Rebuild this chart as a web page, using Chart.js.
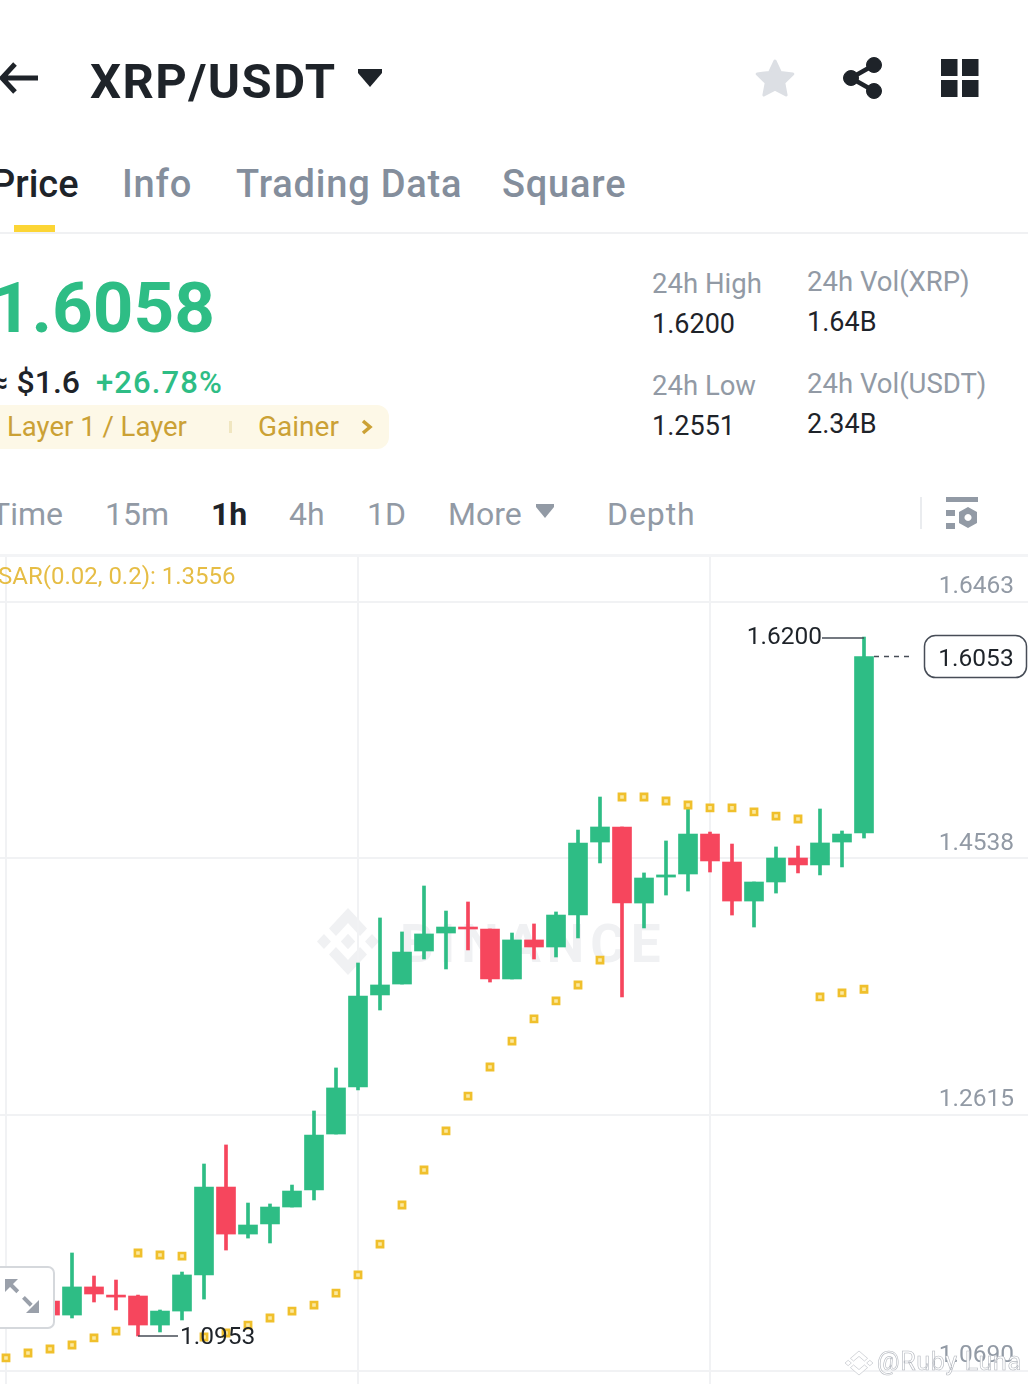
<!DOCTYPE html>
<html>
<head>
<meta charset="utf-8">
<title>XRP/USDT</title>
<script src="https://cdn.jsdelivr.net/npm/chart.js@4/dist/chart.umd.js"></script>
<style>
  html, body { margin: 0; padding: 0; background: #fff; }
  #page { position: relative; width: 1028px; height: 1384px; overflow: hidden; font-family: Roboto, sans-serif; color: #1e2329; }
  .t { position: absolute; white-space: nowrap; line-height: 1; }
  .green { color: #2ebd85; }
  .stat-label { font-size: 27.5px; color: #929aa5; }
  .stat-value { font-size: 27px; color: #1e2329; }
  .tab { font-size: 38px; font-weight: 500; color: #848e9c; top: 165px; letter-spacing: 0.8px; }
  .range { font-size: 32px; color: #929aa5; top: 498px; }
  svg { position: absolute; overflow: visible; }
  #chart { position: absolute; left: 0; top: 555px; z-index: 2; }
  #sep1 { position: absolute; left: 0; top: 232px; width: 1028px; height: 2px; background: #f0f1f3; }
  #sep2 { position: absolute; left: 0; top: 554px; width: 1028px; height: 3px; background: #f3f4f6; z-index: 3; }
  #underline { position: absolute; left: 14px; top: 225px; width: 41px; height: 8px; background: #fcd535; }
  #tags { position: absolute; left: -20px; top: 405px; width: 409px; height: 44px; border-radius: 12px; background: #fdf8e7; }
  #expand { position: absolute; left: -12px; top: 1266px; width: 63px; height: 59px; border: 2px solid #d5d8dc; border-radius: 7px; background: #fff; z-index: 4; }
  #brand { position: absolute; left: 400px; top: 918px; font-size: 53px; font-weight: 700; letter-spacing: 6px; color: #f0f1f3; z-index: 1; line-height: 1; }
  #stamp { position: absolute; left: 877px; top: 1349px; font-size: 25px; color: #fff; -webkit-text-stroke: 0.6px #b4b8bf; z-index: 5; line-height: 1; letter-spacing: 0.7px; white-space: nowrap; }
</style>
</head>
<body>
<div id="page">
  <svg style="left:0;top:60px" width="40" height="36" viewBox="0 0 40 36"><path d="M38 18H2M15 4 2 18l13 14" fill="none" stroke="#1e2329" stroke-width="5"/></svg>
  <div class="t" style="left:90px;top:57px;font-size:49px;font-weight:700;color:#1e2329;letter-spacing:1.4px" >XRP/USDT</div>
  <svg style="left:357px;top:68px" width="26" height="20" viewBox="0 0 26 20"><path d="M1 1h24v4L13 19 1 5z" fill="#1e2329"/></svg>
  <svg style="left:753px;top:56px" width="44" height="44" viewBox="0 0 44 44"><path d="M22 5l5.4 11.4 12.4 1.6-9 8.700 2.300 12.300L22 33.100 10.900 39l2.300-12.300-9-8.700 12.400-1.600z" fill="#dcdfe4" stroke="#dcdfe4" stroke-width="3" stroke-linejoin="round"/></svg>
  <svg style="left:840px;top:54px" width="46" height="48" viewBox="0 0 46 48"><g fill="#1e2329" stroke="#1e2329"><path d="M11 24 34 11M11 24l23 13" stroke-width="4.500"/><circle cx="11" cy="24" r="7.500"/><circle cx="34" cy="11" r="7.500"/><circle cx="34" cy="37" r="7.500"/></g></svg>
  <svg style="left:941px;top:59px" width="38" height="38" viewBox="0 0 38 38"><g fill="#1e2329"><rect width="16.500" height="17"/><rect x="21" width="16.500" height="17"/><rect y="21" width="16.500" height="17"/><rect x="21" y="21" width="16.500" height="17"/></g></svg>

  <div class="t tab" style="left:-9px;color:#1e2329;letter-spacing:0">Price</div>
  <div class="t tab" style="left:122px">Info</div>
  <div class="t tab" style="left:236px">Trading Data</div>
  <div class="t tab" style="left:502px">Square</div>
  <div id="underline"></div>
  <div id="sep1"></div>

  <div class="t green" style="right:813px;top:272px;font-size:71px;font-weight:700">1.6058</div>
  <div class="t" style="right:948px;top:366px;font-size:32px;font-weight:500">≈ $1.6</div>
  <div class="t green" style="left:96px;top:367px;font-size:31px;font-weight:500;letter-spacing:1.1px">+26.78%</div>
  <div id="tags"></div>
  <div class="t" style="left:7px;top:413px;font-size:27.5px;color:#cba135">Layer 1 / Layer</div>
  <div style="position:absolute;left:229px;top:421px;width:3px;height:12px;background:#f0e6c0"></div>
  <div class="t" style="left:258px;top:413px;font-size:28px;color:#cba135">Gainer</div>
  <svg style="left:361px;top:419px" width="12" height="16" viewBox="0 0 12 16"><path d="M2 2l7 6-7 6" fill="none" stroke="#cba135" stroke-width="3.500"/></svg>

  <div class="t stat-label" style="left:652px;top:270px">24h High</div>
  <div class="t stat-value" style="left:652px;top:311px">1.6200</div>
  <div class="t stat-label" style="left:807px;top:268px">24h Vol(XRP)</div>
  <div class="t stat-value" style="left:807px;top:309px">1.64B</div>
  <div class="t stat-label" style="left:652px;top:372px">24h Low</div>
  <div class="t stat-value" style="left:652px;top:413px">1.2551</div>
  <div class="t stat-label" style="left:807px;top:370px">24h Vol(USDT)</div>
  <div class="t stat-value" style="left:807px;top:411px">2.34B</div>

  <div class="t range" style="right:965px">Time</div>
  <div class="t range" style="left:105px">15m</div>
  <div class="t range" style="left:211px;color:#1e2329;font-weight:700">1h</div>
  <div class="t range" style="left:289px">4h</div>
  <div class="t range" style="left:367px">1D</div>
  <div class="t range" style="left:448px">More</div>
  <svg style="left:536px;top:504px" width="18" height="14" viewBox="0 0 18 14"><path d="M0 0h18v3L9 14 0 3z" fill="#929aa5"/></svg>
  <div class="t range" style="left:607px;letter-spacing:0.9px">Depth</div>
  <div style="position:absolute;left:920px;top:497px;width:2px;height:32px;background:#eaecef"></div>
  <svg style="left:945px;top:495px" width="34" height="34" viewBox="0 0 34 34"><g fill="#929aa5"><rect x="1" y="2" width="32" height="5"/><rect x="1" y="15" width="9" height="6"/><rect x="1" y="28" width="9" height="6"/><path fill-rule="evenodd" d="M23 12l9 5v11l-9 5-9-5V17zM23 19a3.500 3.500 0 1 0 .01 0z"/></g></svg>

  <div id="sep2"></div>
  <svg style="left:317px;top:908px;z-index:1" width="62" height="67" viewBox="0 0 32 32" preserveAspectRatio="none"><path d="M9.800 13.400 16 7.200l6.200 6.200 3.600-3.600L16 0 6.200 9.800l3.600 3.600zM0 16l3.600-3.600L7.200 16l-3.600 3.600L0 16zm9.800 2.600L16 24.800l6.200-6.200 3.600 3.600L16 32l-9.800-9.800 3.600-3.600zM24.800 16l3.600-3.600L32 16l-3.600 3.600L24.800 16zm-5.100 0L16 12.300 13.300 15l-.3.3-.7.7L16 19.700l3.700-3.700z" fill="#f0f1f3"/></svg>
  <div id="brand">BINANCE</div>
  <canvas id="chart" width="1028" height="829"></canvas>
  <div class="t" style="left:-2px;top:564px;font-size:24px;color:#e6bd45;z-index:3">SAR(0.02, 0.2): 1.3556</div>

  <div id="expand"></div>
  <svg style="left:5px;top:1279px;z-index:5" width="36" height="36" viewBox="0 0 36 36"><g fill="#9aa0aa"><path d="M0 0h13L0 13z"/><path d="M34 34H21l13-13z"/></g><path d="M5 5l24 24" stroke="#9aa0aa" stroke-width="4" stroke-dasharray="11 8"/></svg>

  <svg style="left:845px;top:1351px;z-index:5" width="28" height="24" viewBox="0 0 32 32" preserveAspectRatio="none"><path d="M9.800 13.400 16 7.200l6.200 6.200 3.600-3.600L16 0 6.200 9.800l3.600 3.600zM0 16l3.600-3.600L7.200 16l-3.600 3.600L0 16zm9.800 2.600L16 24.800l6.200-6.200 3.600 3.600L16 32l-9.800-9.800 3.600-3.600zM24.800 16l3.600-3.600L32 16l-3.600 3.600L24.800 16z" fill="#fff" stroke="#b4b8bf" stroke-width="0.700"/></svg>
  <div id="stamp">@Ruby Luna</div>
</div>

<script>
// hourly candles. the first two sit behind the expand button
const opens = [null, null, 1.1215, 1.1110, 1.1321, 1.1260, 1.1253, 1.1035, 1.1140, 1.1411, 1.2071, 1.1718, 1.1794, 1.1921, 1.2049, 1.2469, 1.2822, 1.3513, 1.3595, 1.3843, 1.3978, 1.4023, 1.4008, 1.3633, 1.3926, 1.3873, 1.4113, 1.4661, 1.4774, 1.4203, 1.4398, 1.4421, 1.4721, 1.4511, 1.4218, 1.4361, 1.4541, 1.4489, 1.4661, 1.4729];
const closes = [null, null, 1.1110, 1.1321, 1.1268, 1.1245, 1.1035, 1.1140, 1.1411, 1.2071, 1.1718, 1.1786, 1.1921, 1.2041, 1.2462, 1.2815, 1.3505, 1.3588, 1.3835, 1.3971, 1.4023, 1.4008, 1.3633, 1.3926, 1.3873, 1.4113, 1.4654, 1.4774, 1.4203, 1.4391, 1.4414, 1.4721, 1.4519, 1.4218, 1.4361, 1.4541, 1.4489, 1.4654, 1.4721, 1.6053];
const highs = [null, null, 1.1215, 1.1576, 1.1403, 1.1373, 1.1260, 1.1148, 1.1433, 1.2244, 1.2387, 1.1951, 1.1944, 1.2086, 1.2642, 1.2965, 1.3753, 1.4091, 1.3986, 1.4331, 1.4143, 1.4211, 1.4008, 1.3978, 1.4046, 1.4136, 1.4751, 1.4999, 1.4774, 1.4429, 1.4669, 1.4939, 1.4736, 1.4646, 1.4361, 1.4624, 1.4631, 1.4909, 1.4744, 1.6200];
const lows = [null, null, 1.1110, 1.1088, 1.1208, 1.1148, 1.0953, 1.0983, 1.1073, 1.1230, 1.1598, 1.1688, 1.1651, 1.1921, 1.1974, 1.2469, 1.2800, 1.3400, 1.3595, 1.3783, 1.3708, 1.3851, 1.3610, 1.3633, 1.3783, 1.3798, 1.3941, 1.4504, 1.3498, 1.4016, 1.4263, 1.4293, 1.4436, 1.4113, 1.4023, 1.4278, 1.4429, 1.4414, 1.4474, 1.4691];
const sar = [1.0788, 1.0825, 1.0855, 1.0885, 1.0938, 1.0990, 1.1576, 1.1561, 1.1553, 1.0945, 1.0975, 1.1035, 1.1088, 1.1140, 1.1185, 1.1275, 1.1411, 1.1643, 1.1936, 1.2199, 1.2492, 1.2754, 1.2972, 1.3167, 1.3333, 1.3468, 1.3588, 1.3775, 1.4999, 1.4999, 1.4969, 1.4939, 1.4917, 1.4917, 1.4887, 1.4856, 1.4834, 1.3498, 1.3528, 1.3556];
const priceTicks = [1.6463, 1.4538, 1.2615, 1.0690];
const timeTicks = [0, 16, 32];
const lastPrice = 1.6053;

const green = "#2ebd85";
const red = "#f6465d";
const candleColors = opens.map((o, i) => (closes[i] >= o ? green : red));
const ink = "#474d57";
const labelFont = "24.5px Roboto, sans-serif";

// high / low callouts and the last price pill
const callouts = {
  id: "callouts",
  afterDatasetsDraw(chart) {
    const { ctx, scales } = chart;
    const x = scales.x;
    const y = scales.y;
    const highValue = Math.max(...highs.filter((v) => v !== null));
    const lowValue = Math.min(...lows.filter((v) => v !== null));
    const hx = x.getPixelForValue(highs.indexOf(highValue));
    const hy = y.getPixelForValue(highValue);
    const lx = x.getPixelForValue(lows.indexOf(lowValue));
    const ly = y.getPixelForValue(lowValue);
    const py = y.getPixelForValue(lastPrice);

    ctx.save();
    ctx.strokeStyle = ink;
    ctx.lineWidth = 1.5;
    ctx.beginPath();
    ctx.moveTo(hx, hy + 1);
    ctx.lineTo(hx - 42, hy + 1);
    ctx.moveTo(lx, ly);
    ctx.lineTo(lx + 40, ly);
    ctx.stroke();

    ctx.setLineDash([5, 5]);
    ctx.beginPath();
    ctx.moveTo(hx + 10, py);
    ctx.lineTo(hx + 50, py);
    ctx.stroke();
    ctx.setLineDash([]);

    ctx.fillStyle = "#1e2329";
    ctx.font = labelFont;
    ctx.textBaseline = "middle";
    ctx.textAlign = "right";
    ctx.fillText(highValue.toFixed(4), hx - 42, hy + 1);
    ctx.textAlign = "left";
    ctx.fillText(lowValue.toFixed(4), lx + 42, ly + 2);

    ctx.fillStyle = "#fff";
    ctx.beginPath();
    ctx.roundRect(hx + 60.5, py - 21, 102, 42, 11);
    ctx.fill();
    ctx.stroke();
    ctx.fillStyle = "#1e2329";
    ctx.textAlign = "center";
    ctx.fillText(lastPrice.toFixed(4), hx + 112, py + 3);
    ctx.restore();
  },
};

new Chart(document.getElementById("chart"), {
  type: "bar",
  plugins: [callouts],
  options: {
    responsive: false,
    animation: false,
    layout: { padding: 0, autoPadding: false },
    plugins: {
      legend: { display: false },
      tooltip: { enabled: false },
    },
    scales: {
      x: {
        type: "linear",
        offset: false,
        min: -0.2727,
        max: 46.4545,
        border: { display: false },
        grid: { offset: false, color: "#f1f2f4", lineWidth: 2, drawTicks: false },
        ticks: { display: false },
        afterBuildTicks: (axis) => {
          axis.ticks = timeTicks.map((value) => ({ value }));
        },
        afterFit: (axis) => {
          axis.height = 0;
          axis.paddingLeft = 0;
          axis.paddingRight = 0;
        },
      },
      y: {
        position: "right",
        min: 1.05924,
        max: 1.68158,
        border: { display: false },
        grid: { color: "#f1f2f4", lineWidth: 2, drawTicks: false },
        ticks: {
          mirror: true,
          padding: -14,
          labelOffset: -15,
          color: "#929aa5",
          font: { family: "Roboto, sans-serif", size: 24.5 },
          callback: (value) => value.toFixed(4),
        },
        afterBuildTicks: (axis) => {
          axis.ticks = priceTicks.map((value) => ({ value }));
        },
        afterFit: (axis) => {
          axis.width = 0;
          axis.paddingTop = 0;
          axis.paddingBottom = 0;
        },
      },
    },
  },
  data: {
    datasets: [
      {
        type: "line",
        label: "SAR",
        order: 0,
        showLine: false,
        pointStyle: "rect",
        pointRadius: 4.4,
        pointBorderWidth: 2.6,
        pointBorderColor: "#f0c02c",
        pointBackgroundColor: "#fbe9a0",
        data: sar.map((v, i) => ({ x: i, y: v })),
      },
      {
        label: "Body",
        order: 1,
        grouped: false,
        barThickness: 19,
        backgroundColor: candleColors,
        data: opens.map((o, i) => ({ x: i, y: o === null ? null : [o, closes[i]] })),
      },
      {
        label: "Wick",
        order: 2,
        grouped: false,
        barThickness: 3,
        backgroundColor: candleColors,
        data: lows.map((l, i) => ({ x: i, y: l === null ? null : [l, highs[i]] })),
      },
    ],
  },
});
</script>
</body>
</html>
